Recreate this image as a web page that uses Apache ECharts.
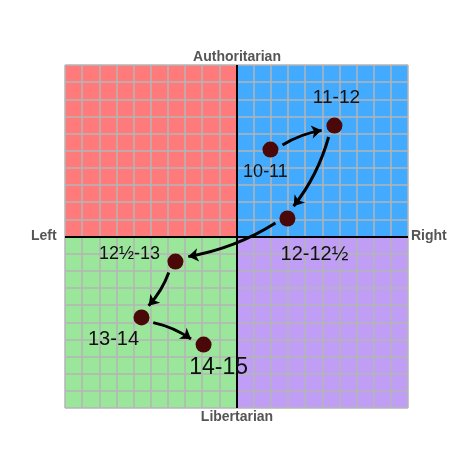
<!DOCTYPE html>
<html><head><meta charset="utf-8">
<script src="https://cdn.jsdelivr.net/npm/echarts@6/dist/echarts.min.js"></script>
<style>html,body{margin:0;padding:0;background:#fff}#c{width:474px;height:474px}</style>
</head><body><div id="c"></div>
<script>
const ages = ['10-11','11-12','12-12½','12½-13','13-14','14-15'];
const econ = [1.98, 5.71, 2.97, -3.56, -5.54, -1.92];
const social = [5.07, 6.47, 1.05, -1.46, -4.72, -6.30];
const axisNames = ['Authoritarian','Libertarian','Left','Right'];
const gridTicks = [-10,-9,-8,-7,-6,-5,-4,-3,-2,-1,0,1,2,3,4,5,6,7,8,9,10];

// label styling (not data)
const labelStyle = [
  {offset:[-5,22], size:18},
  {offset:[2,-28], size:19},
  {offset:[27,36], size:20},
  {offset:[-46,-8], size:18},
  {offset:[-28,22], size:20},
  {offset:[15,23], size:23}
];

const chart = echarts.init(document.getElementById('c'));
const pts = ages.map((a,i)=>({value:[econ[i],social[i]], name:a,
  label:{show:true, formatter:a, fontSize:labelStyle[i].size, color:'#111', offset:labelStyle[i].offset, fontFamily:'Liberation Sans'}}));

const arrows = [];
for (let i=0;i<ages.length-1;i++){
  const x1=econ[i], y1=social[i], x2=econ[i+1], y2=social[i+1];
  const dx=x2-x1, dy=y2-y1, L=Math.hypot(dx,dy);
  const s=0.75/L, e=0.8/L;
  arrows.push({coords:[[x1+dx*s,y1+dy*s],[x2-dx*e,y2-dy*e]]});
}

const gridLines = [];
gridTicks.forEach(t=>{
  if (t===0) return;
  gridLines.push([{coord:[t,-10]},{coord:[t,10]}]);
  gridLines.push([{coord:[-10,t]},{coord:[10,t]}]);
});
const zeroLines = [[{coord:[0,-10]},{coord:[0,10]}],[{coord:[-10,0]},{coord:[10,0]}]];

const ax = {type:'value', min:-10, max:10, interval:1,
  axisLabel:{show:false}, axisTick:{show:false},
  axisLine:{show:false}, splitLine:{show:false}};

chart.setOption({
  animation:false,
  grid:{left:65, top:65, width:343, height:343},
  xAxis:ax, yAxis:Object.assign({},ax),
  graphic:[
    {type:'text', left:'center', top:50, style:{text:axisNames[0], fontSize:14, fontWeight:'bold', fill:'#555', fontFamily:'Liberation Sans'}},
    {type:'text', left:'center', top:410, style:{text:axisNames[1], fontSize:14, fontWeight:'bold', fill:'#555', fontFamily:'Liberation Sans'}},
    {type:'text', left:31, top:229, style:{text:axisNames[2], fontSize:14, fontWeight:'bold', fill:'#555', fontFamily:'Liberation Sans'}},
    {type:'text', left:411, top:229, style:{text:axisNames[3], fontSize:14, fontWeight:'bold', fill:'#555', fontFamily:'Liberation Sans'}}
  ],
  series:[
    {type:'scatter', data:[], silent:true, z:1,
      markArea:{silent:true, data:[
        [{coord:[-10,0], itemStyle:{color:'#ff7b7b'}},{coord:[0,10]}],
        [{coord:[0,0], itemStyle:{color:'#42aaff'}},{coord:[10,10]}],
        [{coord:[-10,-10], itemStyle:{color:'#9ae69a'}},{coord:[0,0]}],
        [{coord:[0,-10], itemStyle:{color:'#c09ef5'}},{coord:[10,0]}]
      ]}},
    {type:'scatter', data:[], silent:true, z:2,
      markLine:{silent:true, symbol:['none','none'], label:{show:false},
        lineStyle:{color:'#b4b4b4', width:1.5, type:'solid', opacity:1}, data:gridLines}},
    {type:'scatter', data:[], silent:true, z:3,
      markLine:{silent:true, symbol:['none','none'], label:{show:false},
        lineStyle:{color:'#000', width:2, type:'solid', opacity:1}, data:zeroLines}},
    {type:'lines', coordinateSystem:'cartesian2d', z:5, data:arrows,
      symbol:['none','arrow'], symbolSize:10,
      lineStyle:{color:'#000', width:3, curveness:0.1, opacity:1}},
    {type:'scatter', z:6, data:pts, symbolSize:16,
      itemStyle:{color:'#4a0808', opacity:1}}
  ]
});
</script></body></html>
